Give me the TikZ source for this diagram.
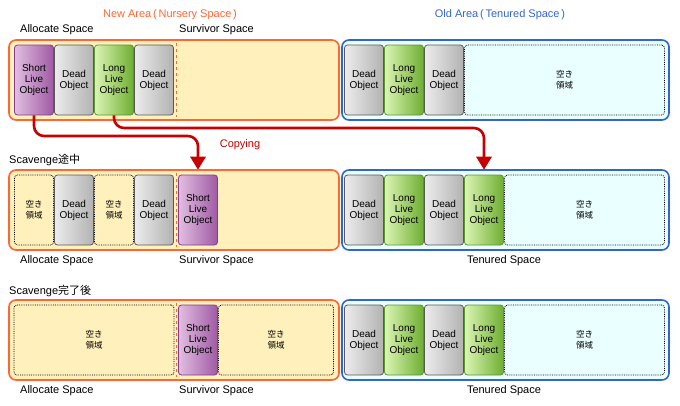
\documentclass[tikz,border=0pt]{standalone}
\usepackage{fontspec}
\setmainfont{Liberation Sans}
\newfontfamily\cjk{Noto Sans CJK JP}
\definecolor{cred}{RGB}{200,0,0}
\definecolor{corange}{RGB}{255,102,51}
\definecolor{cblue}{RGB}{51,102,204}
\definecolor{cnewfill}{RGB}{255,240,188}
\definecolor{coldfill}{RGB}{234,255,255}
\definecolor{cpurd}{RGB}{130,60,140}
\definecolor{cpurl}{RGB}{225,190,225}
\definecolor{cpurr}{RGB}{160,90,165}
\definecolor{cgrnd}{RGB}{90,150,40}
\definecolor{cgrnl}{RGB}{220,245,180}
\definecolor{cgrnr}{RGB}{110,175,50}
\begin{document}
\begin{tikzpicture}[x=1pt,y=-1pt,
 newarea/.style={draw=corange,line width=1.6pt,fill=cnewfill,rounded corners=7pt},
 oldarea/.style={draw=cblue,line width=1.6pt,fill=coldfill,rounded corners=7pt},
 obj/.style={rounded corners=3pt,line width=0.8pt,font=\fontsize{10}{11}\selectfont,align=center,inner sep=0pt,minimum width=39pt,minimum height=70pt},
 short/.style={obj,draw=cpurd,left color=cpurl,right color=cpurr},
 dead/.style={obj,draw=gray!70!black,left color=gray!15,right color=gray!60},
 long/.style={obj,draw=cgrnd,left color=cgrnl,right color=cgrnr},
 free/.style={draw=black,densely dotted,line width=0.8pt,rounded corners=3pt,font=\cjk\fontsize{8.5}{11}\selectfont,align=center,minimum height=70pt},
 lbl/.style={font=\fontsize{11}{13}\selectfont,anchor=west,inner sep=0pt},
 ttl/.style={font=\fontsize{11}{13}\selectfont,inner sep=0pt},
 copy/.style={draw=cred,line width=2.6pt,rounded corners=10pt},
 divider/.style={draw=corange,dashed,line width=0.7pt}]
\useasboundingbox (0,0) rectangle (680,405);
% titles
\node[ttl,text=corange] (tn) at (170,15) {New Area\,(\,Nursery Space\,)};
\node[ttl,text=cblue] (to) at (500,15) {Old Area\,(\,Tenured Space\,)};
\node[lbl] (la1) at (20,30) {Allocate Space};
\node[lbl] (ls1) at (179,30) {Survivor Space};
% row 1
\path[newarea] (9,40) rectangle (339,120);
\path[oldarea] (342,40) rectangle (669,120);
\draw[divider] (176,43) -- (176,117);
\node[short] (s1) at (34,80) {Short\\Live\\Object};
\node[dead] (d1) at (74,80) {Dead\\Object};
\node[long] (g1) at (114,80) {Long\\Live\\Object};
\node[dead] (d2) at (154,80) {Dead\\Object};
\node[dead] (od1) at (364,80) {Dead\\Object};
\node[long] (og1) at (404,80) {Long\\Live\\Object};
\node[dead] (od2) at (444,80) {Dead\\Object};
\node[free,minimum width=200pt] (of1) at (564.5,80) {空き\\領域};
% row 2
\node[lbl] (sc1) at (9,160) {Scavenge{\cjk 途中}};
\path[newarea] (9,170) rectangle (339,250);
\path[oldarea] (342,170) rectangle (669,250);
\draw[divider] (176,173) -- (176,247);
\node[free,minimum width=39pt] (f21) at (34,210) {空き\\領域};
\node[dead] (d21) at (74,210) {Dead\\Object};
\node[free,minimum width=39pt] (f22) at (114,210) {空き\\領域};
\node[dead] (d22) at (154,210) {Dead\\Object};
\node[short] (s2) at (198,210) {Short\\Live\\Object};
\node[dead] (od21) at (364,210) {Dead\\Object};
\node[long] (og21) at (404,210) {Long\\Live\\Object};
\node[dead] (od22) at (444,210) {Dead\\Object};
\node[long] (og22) at (484,210) {Long\\Live\\Object};
\node[free,minimum width=160pt] (of2) at (584.5,210) {空き\\領域};
\node[lbl] (la2) at (20,261) {Allocate Space};
\node[lbl] (ls2) at (179,261) {Survivor Space};
\node[ttl] (lt2) at (504,261) {Tenured Space};
% row 3
\node[lbl] (sc2) at (9,291) {Scavenge{\cjk 完了後}};
\path[newarea] (9,300) rectangle (339,380);
\path[oldarea] (342,300) rectangle (669,380);
\draw[divider] (176,303) -- (176,377);
\node[free,minimum width=160pt] (f31) at (94,340) {空き\\領域};
\node[short] (s3) at (198,340) {Short\\Live\\Object};
\node[free,minimum width=115pt] (f32) at (276,340) {空き\\領域};
\node[dead] (od31) at (364,340) {Dead\\Object};
\node[long] (og31) at (404,340) {Long\\Live\\Object};
\node[dead] (od32) at (444,340) {Dead\\Object};
\node[long] (og32) at (484,340) {Long\\Live\\Object};
\node[free,minimum width=160pt] (of3) at (584.5,340) {空き\\領域};
\node[lbl] (la3) at (20,391) {Allocate Space};
\node[lbl] (ls3) at (179,391) {Survivor Space};
\node[ttl] (lt3) at (504,391) {Tenured Space};
% arrows
\node[ttl,text=cred] (cp) at (240,145) {Copying};
\coordinate (a1) at (34,136);
\coordinate (a2) at (198,136);
\draw[copy] (s1.south) -- (a1) -- (a2) -- ([yshift=15pt]s2.north);
\fill[cred] ([yshift=5pt]s2.north) -- ++(-8,-13) -- ++(16,0) -- cycle;
\coordinate (b1) at (114,128);
\coordinate (b2) at (484,128);
\draw[copy] (g1.south) -- (b1) -- (b2) -- ([yshift=15pt]og22.north);
\fill[cred] ([yshift=5pt]og22.north) -- ++(-8,-13) -- ++(16,0) -- cycle;
\end{tikzpicture}
\end{document}
